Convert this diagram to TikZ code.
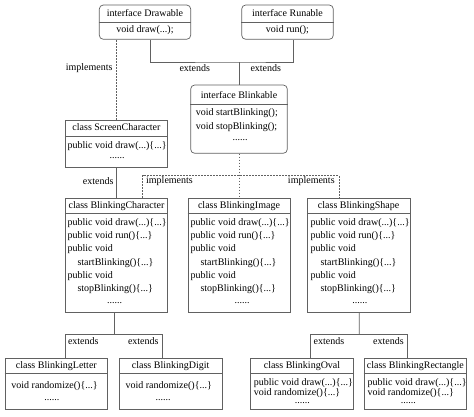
\documentclass[tikz,border=0pt]{standalone}
\usepackage{fontspec}
\setmainfont{Liberation Serif}
\definecolor{linegray}{gray}{0.38}
\tikzset{
  classbox/.style={draw=linegray, line width=0.7pt, inner sep=0pt},
  ifacebox/.style={classbox, rounded corners=4pt},
  boxtitle/.style={font=\fontsize{10}{12}\selectfont, inner sep=0pt},
  boxbody/.style={font=\fontsize{10}{13.3}\selectfont, inner sep=0pt, align=left, anchor=north west},
  boxmore/.style={font=\fontsize{10}{12}\selectfont, inner sep=0pt},
  extline/.style={draw=linegray, line width=0.7pt},
  implline/.style={extline, dash pattern=on 1.5pt off 1.5pt},
  linktag/.style={font=\fontsize{10}{12}\selectfont, inner sep=0pt},
}
\begin{document}
\begin{tikzpicture}[x=1pt, y=-1pt]
   \useasboundingbox (0,0) rectangle (474,416);
   % interfaces
   \node[ifacebox, minimum width=91.4pt, minimum height=34.3pt] (drawable) at (145,22.15) {};
   \draw[extline] ([yshift=-17.3pt]drawable.north west) -- ([yshift=-17.3pt]drawable.north east);
   \node[boxtitle] (drawable-title) at ([yshift=-8.65pt]drawable.north) {interface Drawable};
   \node[boxtitle] (drawable-body) at ([yshift=-25.3pt]drawable.north) {void draw(...);};

   \node[ifacebox, minimum width=91.6pt, minimum height=34.3pt] (runable) at (287.5,22.15) {};
   \draw[extline] ([yshift=-17.3pt]runable.north west) -- ([yshift=-17.3pt]runable.north east);
   \node[boxtitle] (runable-title) at ([yshift=-8.65pt]runable.north) {interface Runable};
   \node[boxtitle] (runable-body) at ([yshift=-25.3pt]runable.north) {void run();};

   \node[ifacebox, minimum width=96.6pt, minimum height=68.3pt] (blinkable) at (239,119.15) {};
   \draw[extline] ([yshift=-20pt]blinkable.north west) -- ([yshift=-20pt]blinkable.north east);
   \node[boxtitle] (blinkable-title) at ([yshift=-10pt]blinkable.north) {interface Blinkable};
   \node[boxbody, font=\fontsize{10}{14.3}\selectfont] (blinkable-body)
      at ([xshift=5.3pt, yshift=-23.4pt]blinkable.north west) {void startBlinking();\\void stopBlinking();};
   \node[boxmore] (blinkable-more) at ([xshift=1pt, yshift=13.3pt]blinkable.south) {......};

   % classes
   \node[classbox, minimum width=102.4pt, minimum height=46.7pt] (screen) at (116.5,143.65) {};
   \draw[extline] ([yshift=-16.2pt]screen.north west) -- ([yshift=-16.2pt]screen.north east);
   \node[boxtitle] (screen-title) at ([yshift=-6.8pt]screen.north) {class ScreenCharacter};
   \node[boxbody] (screen-body) at ([xshift=2.4pt, yshift=-21pt]screen.north west) {public void draw(...)\{...\}};
   \node[boxmore] (screen-more) at ([xshift=0.5pt, yshift=9.8pt]screen.south) {......};

   \node[classbox, minimum width=102.4pt, minimum height=114.4pt] (bchar) at (116.5,255.5) {};
   \draw[extline] ([yshift=-15.4pt]bchar.north west) -- ([yshift=-15.4pt]bchar.north east);
   \node[boxtitle] (bchar-title) at ([yshift=-8pt]bchar.north) {class BlinkingCharacter};
   \node[boxbody] (bchar-body) at ([xshift=2.4pt, yshift=-20.1pt]bchar.north west)
      {public void draw(...)\{...\}\\public void run()\{...\}\\public void\\\hspace*{10pt}startBlinking()\{...\}\\public void\\\hspace*{10pt}stopBlinking()\{...\}};
   \node[boxmore] (bchar-more) at ([xshift=-2pt, yshift=10pt]bchar.south) {......};

   \node[classbox, minimum width=102pt, minimum height=114.4pt] (bimage) at (239,255.5) {};
   \draw[extline] ([yshift=-15.4pt]bimage.north west) -- ([yshift=-15.4pt]bimage.north east);
   \node[boxtitle] (bimage-title) at ([yshift=-8pt]bimage.north) {class BlinkingImage};
   \node[boxbody] (bimage-body) at ([xshift=2.7pt, yshift=-20.1pt]bimage.north west)
      {public void draw(...)\{...\}\\public void run()\{...\}\\public void\\\hspace*{10pt}startBlinking()\{...\}\\public void\\\hspace*{10pt}stopBlinking()\{...\}};
   \node[boxmore] (bimage-more) at ([xshift=3pt, yshift=10pt]bimage.south) {......};

   \node[classbox, minimum width=102.7pt, minimum height=114.4pt] (bshape) at (358.65,255.5) {};
   \draw[extline] ([yshift=-15.4pt]bshape.north west) -- ([yshift=-15.4pt]bshape.north east);
   \node[boxtitle] (bshape-title) at ([yshift=-8pt]bshape.north) {class BlinkingShape};
   \node[boxbody] (bshape-body) at ([xshift=3.4pt, yshift=-20.1pt]bshape.north west)
      {public void draw(...)\{...\}\\public void run()\{...\}\\public void\\\hspace*{10pt}startBlinking()\{...\}\\public void\\\hspace*{10pt}stopBlinking()\{...\}};
   \node[boxmore] (bshape-more) at ([xshift=1.3pt, yshift=10pt]bshape.south) {......};

   \node[classbox, minimum width=102.7pt, minimum height=50.7pt] (bletter) at (56.35,383.65) {};
   \draw[extline] ([yshift=-15.5pt]bletter.north west) -- ([yshift=-15.5pt]bletter.north east);
   \node[boxtitle] (bletter-title) at ([yshift=-7.7pt]bletter.north) {class BlinkingLetter};
   \node[boxtitle] (bletter-body) at ([xshift=-1.8pt, yshift=-27.7pt]bletter.north) {void randomize()\{...\}};
   \node[boxmore] (bletter-more) at ([xshift=-4.6pt, yshift=9.7pt]bletter.south) {......};

   \node[classbox, minimum width=102.7pt, minimum height=50.7pt] (bdigit) at (170.65,383.65) {};
   \draw[extline] ([yshift=-15.5pt]bdigit.north west) -- ([yshift=-15.5pt]bdigit.north east);
   \node[boxtitle] (bdigit-title) at ([yshift=-7.7pt]bdigit.north) {class BlinkingDigit};
   \node[boxtitle] (bdigit-body) at ([xshift=-1.9pt, yshift=-27.7pt]bdigit.north) {void randomize()\{...\}};
   \node[boxmore] (bdigit-more) at ([xshift=-7.6pt, yshift=9.7pt]bdigit.south) {......};

   \node[classbox, minimum width=102.6pt, minimum height=50.7pt] (boval) at (302,383.65) {};
   \draw[extline] ([yshift=-15.5pt]boval.north west) -- ([yshift=-15.5pt]boval.north east);
   \node[boxtitle] (boval-title) at ([yshift=-7.7pt]boval.north) {class BlinkingOval};
   \node[boxbody, font=\fontsize{10}{10}\selectfont] (boval-body) at ([xshift=3.3pt, yshift=-20pt]boval.north west)
      {public void draw(...)\{...\}\\void randomize()\{...\}};
   \node[boxmore] (boval-more) at ([xshift=0.4pt, yshift=6.2pt]boval.south) {......};

   \node[classbox, minimum width=102.7pt, minimum height=50.7pt] (brect) at (415.35,383.65) {};
   \draw[extline] ([yshift=-15.5pt]brect.north west) -- ([yshift=-15.5pt]brect.north east);
   \node[boxtitle] (brect-title) at ([yshift=-7.7pt]brect.north) {class BlinkingRectangle};
   \node[boxbody, font=\fontsize{10}{10}\selectfont] (brect-body) at ([xshift=3.7pt, yshift=-20pt]brect.north west)
      {public void draw(...)\{...\}\\void randomize()\{...\}};
   \node[boxmore] (brect-more) at ([xshift=-7pt, yshift=6.2pt]brect.south) {......};

   % connectors
   \coordinate (top-join) at (239,62);
   \draw[extline] ([xshift=5.7pt]drawable.south) |- (top-join) -| ([xshift=5.8pt]runable.south);
   \draw[extline] (top-join) -- (blinkable.north);
   \draw[implline] (screen.north) -- (screen.north |- drawable.south);
   \draw[extline] (screen.south) -- (bchar.north);
   \draw[implline] (blinkable.south) -- (bimage.north);
   \coordinate (impl-join) at (239,175.7);
   \draw[implline] ([xshift=26.2pt]bchar.north) |- (impl-join) -| ([xshift=-19.7pt]bshape.north);

   \coordinate (char-join) at (114.3,334.5);
   \draw[extline] ([xshift=-2.2pt]bchar.south) -- (char-join);
   \draw[extline] ([xshift=9.3pt]bletter.north) |- (char-join) -| ([xshift=-8.4pt]bdigit.north);
   \coordinate (shape-join) at (359.3,334.5);
   \draw[extline] ([xshift=0.65pt]bshape.south) -- (shape-join);
   \draw[extline] ([xshift=8.7pt]boval.north) |- (shape-join) -| ([xshift=-8pt]brect.north);

   % labels
   \node[linktag] (tag-impl-screen) at (89.2,67.7) {implements};
   \node[linktag] (tag-ext-drawable) at (194.8,67.7) {extends};
   \node[linktag] (tag-ext-runable) at (265.8,67.7) {extends};
   \node[linktag] (tag-ext-screen) at (98.2,181) {extends};
   \node[linktag] (tag-impl-char) at (169.5,181) {implements};
   \node[linktag] (tag-impl-shape) at (311.3,181) {implements};
   \node[linktag] (tag-ext-letter) at (83.3,341) {extends};
   \node[linktag] (tag-ext-digit) at (143.3,341) {extends};
   \node[linktag] (tag-ext-oval) at (329,341) {extends};
   \node[linktag] (tag-ext-rect) at (388.5,341) {extends};
\end{tikzpicture}
\end{document}
